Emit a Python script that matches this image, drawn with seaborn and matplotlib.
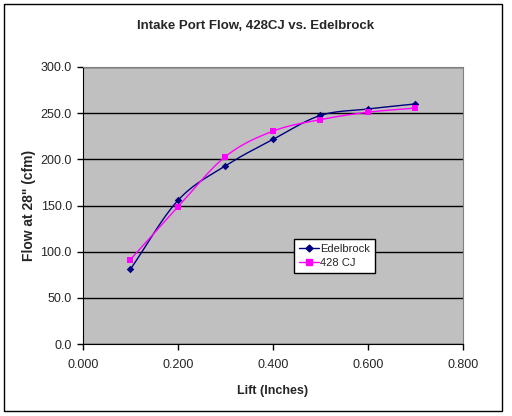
import numpy as np
import pandas as pd
import matplotlib
matplotlib.use('Agg')
import matplotlib.pyplot as plt
import seaborn as sns
from matplotlib.patches import Rectangle

# datos
lift = [0.1, 0.2, 0.3, 0.4, 0.5, 0.6, 0.7]
edelbrock = [81.0, 155.5, 193.0, 221.5, 247.5, 254.5, 260.0]
cj428 = [91.5, 148.5, 203.0, 230.5, 243.0, 251.0, 255.5]

x_ticks = [0.0, 0.2, 0.4, 0.6, 0.8]
y_ticks = [0, 50, 100, 150, 200, 250, 300]


def suavizar(x, y, n=30):
    # curva suave tipo Excel (Catmull-Rom) entre los puntos
    x = np.asarray(x, float)
    y = np.asarray(y, float)
    px = np.concatenate([[2 * x[0] - x[1]], x, [2 * x[-1] - x[-2]]])
    py = np.concatenate([[2 * y[0] - y[1]], y, [2 * y[-1] - y[-2]]])
    xs, ys = [], []
    t = np.linspace(0, 1, n)
    for i in range(1, len(px) - 2):
        for p, out in ((px, xs), (py, ys)):
            p0, p1, p2, p3 = p[i - 1], p[i], p[i + 1], p[i + 2]
            out.extend(0.5 * (2 * p1 + (-p0 + p2) * t
                              + (2 * p0 - 5 * p1 + 4 * p2 - p3) * t ** 2
                              + (-p0 + 3 * p1 - 3 * p2 + p3) * t ** 3))
    return xs, ys


sns.set_style("white")
plt.rcParams['font.family'] = ['Liberation Sans', 'DejaVu Sans']

fig = plt.figure(figsize=(5.12, 4.16), dpi=100)
ax = fig.add_axes([0.162, 0.173, 0.742, 0.666])
ax.set_facecolor('#C0C0C0')

series = [('Edelbrock', edelbrock, '#000080', 'D', 3.5),
          ('428 CJ', cj428, '#FF00FF', 's', 4)]
for nombre, valores, color, marca, tam in series:
    sx, sy = suavizar(lift, valores)
    ax.plot(sx, sy, color=color, lw=1)
    df = pd.DataFrame({'lift': lift, 'flow': valores})
    sns.scatterplot(data=df, x='lift', y='flow', ax=ax, color=color,
                    marker=marca, s=tam ** 2 * 1.2, linewidth=0, zorder=3)
    ax.plot([], [], color=color, marker=marca, ms=tam, lw=1, label=nombre)

ax.set_xlim(0, 0.8)
ax.set_ylim(0, 300)
ax.set_xticks(x_ticks)
ax.set_xticklabels([f'{v:.3f}' for v in x_ticks])
ax.set_yticks(y_ticks)
ax.set_yticklabels([f'{v:.1f}' for v in y_ticks])
ax.yaxis.grid(True, color='black', lw=1)
ax.xaxis.grid(False)
ax.tick_params(axis='both', direction='out', length=4, width=1, color='black',
               labelsize=9, left=True, bottom=True)
ax.tick_params(axis='y', pad=4)
ax.tick_params(axis='x', pad=7)
for lado in ['top', 'right']:
    ax.spines[lado].set_color('#808080')
for lado in ['left', 'bottom']:
    ax.spines[lado].set_color('black')

ax.set_xlabel('Lift (Inches)', fontsize=9, fontweight='bold', labelpad=10)
ax.set_ylabel('Flow at 28" (cfm)', fontsize=10, fontweight='bold', labelpad=3)
fig.text(0.5, 0.937, 'Intake Port Flow, 428CJ vs. Edelbrock', ha='center',
         va='center', fontsize=9.5, fontweight='bold')

leg = ax.legend(loc='lower left', bbox_to_anchor=(0.555, 0.256), fontsize=8,
                frameon=True, fancybox=False, borderpad=0.45, handlelength=1.8,
                handletextpad=0.1, labelspacing=0.35, borderaxespad=0)
leg.get_frame().set_edgecolor('black')
leg.get_frame().set_facecolor('white')
leg.get_frame().set_alpha(1)

# borde exterior del grafico
fig.patches.append(Rectangle((4 / 512, 5 / 416), 498 / 512, 407 / 416,
                             transform=fig.transFigure, fill=False,
                             edgecolor='black', lw=1))

fig.savefig('out.png', dpi=100)
